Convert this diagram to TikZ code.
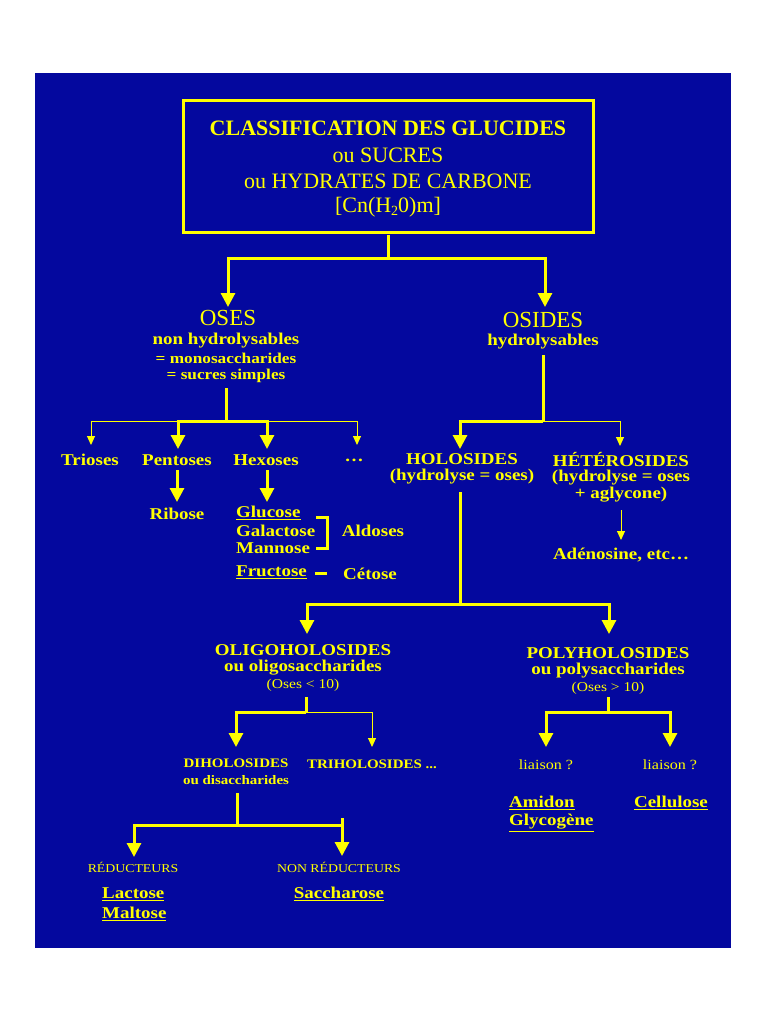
\documentclass[tikz,border=0pt]{standalone}
\usepackage{fontspec}
\setmainfont{Liberation Serif}
\newfontfamily\wide[FakeStretch=1.15]{Liberation Serif}
\usetikzlibrary{arrows.meta}
\definecolor{bg}{RGB}{4,8,158}
\definecolor{yl}{RGB}{255,255,0}
\begin{document}
\begin{tikzpicture}[x=1pt,y=-1pt,
 txt/.style={text=yl,inner sep=0pt,align=center,font=\wide\bfseries\fontsize{16.5}{17}\selectfont},
 big/.style={text=yl,inner sep=0pt,font=\fontsize{23}{25}\selectfont},
 sm/.style={text=yl,inner sep=0pt,align=center,font=\wide\bfseries\fontsize{13}{17}\selectfont},
 thick/.style={draw=yl,line width=3pt},
 thin/.style={draw=yl,line width=1pt},
 ta/.style={thick,-{Triangle[length=14pt,width=14pt]}},
 na/.style={thin,-{Triangle[length=9pt,width=8pt]}}]
\useasboundingbox (0,0) rectangle (768,1024);
\fill[white] (0,0) rectangle (768,1024);
\fill[bg] (35,73) rectangle (731,948);
% title
\node[draw=yl,line width=3pt,minimum width=410pt,minimum height=132pt] (box) at (388,167) {};
\node[txt,font=\bfseries\fontsize{22}{25}\selectfont] (t1) at (388,128) {CLASSIFICATION DES GLUCIDES};
\node[txt,font=\fontsize{22}{25}\selectfont] (t2) at (388,155) {ou SUCRES};
\node[txt,font=\fontsize{22}{25}\selectfont] (t3) at (388,181) {ou HYDRATES DE CARBONE};
\node[txt,font=\fontsize{22}{25}\selectfont] (t4) at (388,207) {[Cn(H\raisebox{-0.3ex}{\fontsize{14}{14}\selectfont 2}0)m]};
\coordinate (j0) at (388,258);
\coordinate (jl) at (228,258);
\coordinate (jr) at (545,258);
\node[big] (oses) at (228,318) {OSES};
\node[big] (osides) at (543,320) {OSIDES};
\draw[thick] (box.south) -- (j0);
\draw[ta] (j0) -- (jl) -- (228,307);
\draw[ta] (j0) -- (jr) -- (545,307);
\node[txt] (o1) at (226,341) {non hydrolysables};
\node[txt,font=\wide\bfseries\fontsize{15}{15}\selectfont] (o2) at (226,358) {= monosaccharides};
\node[txt,font=\wide\bfseries\fontsize{15}{15}\selectfont] (o3) at (226,376) {= sucres simples};
\node[txt] (d1) at (543,342) {hydrolysables};
% oses children
\coordinate (a0) at (226,421);
\draw[thick] (226,388) -- (a0);
\node[txt] (tri) at (90,460) {Trioses};
\node[txt] (pen) at (177,460) {Pentoses};
\node[txt] (hex) at (266,460) {Hexoses};
\node[txt] (dots) at (354,460) {…};
\draw[na] (a0) -- (91,421) -- (91,445);
\draw[na] (a0) -- (357,421) -- (357,445);
\draw[ta] (a0) -- (178,421) -- (178,449);
\draw[ta] (a0) -- (267,421) -- (267,449);
\draw[ta] (177,470) -- (177,502);
\draw[ta] (267,470) -- (267,502);
\node[txt] (rib) at (177,514) {Ribose};
\node[txt,anchor=west] (glu) at (236,513) {\underline{Glucose}};
\node[txt,anchor=west] (gal) at (236,531) {Galactose};
\node[txt,anchor=west] (man) at (236,548) {Mannose};
\draw[thick] (316,517) -- (327,517) -- (327,548) -- (316,548);
\node[txt] (ald) at (373,531) {Aldoses};
\node[txt,anchor=west] (fru) at (236,572) {\underline{Fructose}};
\draw[thick] (315,573) -- (327,573);
\node[txt] (cet) at (370,574) {Cétose};
% osides children
\coordinate (b0) at (543,421);
\draw[thick] (543,355) -- (b0);
\draw[ta] (b0) -- (460,421) -- (460,449);
\draw[na] (b0) -- (620,421) -- (620,446);
\node[txt] (hol) at (462,459) {HOLOSIDES};
\node[txt] (hol2) at (462,477) {(hydrolyse = oses)};
\node[txt] (het) at (621,459) {HÉTÉROSIDES};
\node[txt] (het2) at (621,486) {(hydrolyse = oses\\+ aglycone)};
\draw[na] (621,510) -- (621,540);
\node[txt] (ade) at (621,555) {Adénosine, etc…};
% holosides
\coordinate (c0) at (460,604);
\draw[thick] (460,492) -- (c0);
\draw[ta] (c0) -- (307,604) -- (307,634);
\draw[ta] (c0) -- (609,604) -- (609,634);
\node[txt] (oli) at (303,650) {OLIGOHOLOSIDES};
\node[txt] (oli2) at (303,668) {ou oligosaccharides};
\node[txt,font=\wide\fontsize{13.5}{17}\selectfont] (oli3) at (303,685) {(Oses < 10)};
\node[txt] (pol) at (608,653) {POLYHOLOSIDES};
\node[txt] (pol2) at (608,671) {ou polysaccharides};
\node[txt,font=\wide\fontsize{13.5}{17}\selectfont] (pol3) at (608,688) {(Oses > 10)};
% oligo children
\coordinate (e0) at (306,712);
\draw[thick] (306,697) -- (e0);
\draw[ta] (e0) -- (236,712) -- (236,747);
\draw[na] (e0) -- (372,712) -- (372,747);
\node[sm] (di) at (236,763) {DIHOLOSIDES};
\node[sm] (di2) at (236,780) {ou disaccharides};
\node[sm] (tri2) at (372,764) {TRIHOLOSIDES ...};
% poly children
\coordinate (f0) at (608,712);
\draw[thick] (608,697) -- (f0);
\draw[ta] (f0) -- (546,712) -- (546,747);
\draw[ta] (f0) -- (670,712) -- (670,747);
\node[sm,font=\wide\fontsize{14}{18}\selectfont] (l1) at (546,765) {liaison ?};
\node[sm,font=\wide\fontsize{14}{18}\selectfont] (l2) at (670,765) {liaison ?};
\node[txt,anchor=west] (ami) at (509,803) {\underline{Amidon}};
\node[txt,anchor=west] (gly) at (509,823) {\underline{Glycogène}};
\node[txt] (cel) at (671,803) {\underline{Cellulose}};
% di children
\coordinate (g0) at (237,825);
\draw[thick] (237,793) -- (g0);
\draw[ta] (g0) -- (134,825) -- (134,857);
\draw[ta] (g0) -- (342,825) -- (342,856);
\draw[thick] (342,818) -- (342,825);
\node[sm,font=\wide\fontsize{12}{16}\selectfont] (red) at (133,867) {RÉDUCTEURS};
\node[sm,font=\wide\fontsize{12}{16}\selectfont] (nred) at (339,867) {NON RÉDUCTEURS};
\node[txt,anchor=west] (lac) at (102,894) {\underline{Lactose}};
\node[txt,anchor=west] (mal) at (102,914) {\underline{Maltose}};
\node[txt] (sac) at (339,894) {\underline{Saccharose}};
\end{tikzpicture}
\end{document}
